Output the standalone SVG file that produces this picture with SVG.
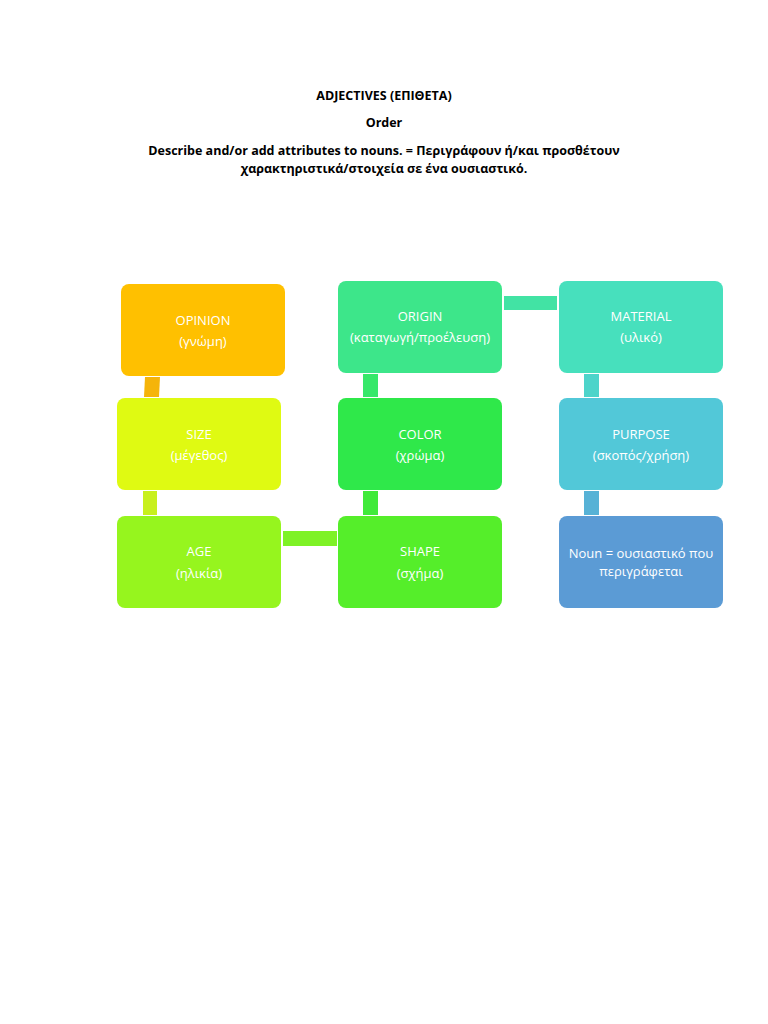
<svg xmlns="http://www.w3.org/2000/svg" width="768" height="1024" viewBox="0 0 768 1024">
<style>
.h{font-family:"Open Sans","Liberation Sans",sans-serif;font-size:12.5px;font-weight:bold;fill:#000;text-anchor:middle}
.t{font-family:"Open Sans","Liberation Sans",sans-serif;font-size:13px;fill:#fff;text-anchor:middle}
</style>
<rect width="768" height="1024" fill="#fff"/>
<text class="h" x="384" y="100">ADJECTIVES (ΕΠΙΘΕΤΑ)</text>
<text class="h" x="384" y="127">Order</text>
<text class="h" x="384" y="155">Describe and/or add attributes to nouns. =  Περιγράφουν ή/και προσθέτουν</text>
<text class="h" x="384" y="173">χαρακτηριστικά/στοιχεία σε ένα ουσιαστικό.</text>
<g id="connectors">
<polygon points="145,377 160,377 159,397 144,397" fill="#F5B40A"/>
<rect x="143" y="491" width="14" height="24" fill="#C8F01E"/>
<rect x="283" y="531" width="54" height="15" fill="#7EF226"/>
<rect x="363" y="374" width="15" height="23" fill="#36E86A"/>
<rect x="363" y="491" width="15" height="24" fill="#40EA3A"/>
<rect x="504" y="296" width="53" height="14" fill="#42E3A4"/>
<rect x="584" y="374" width="15" height="23" fill="#4DD4CA"/>
<rect x="584" y="491" width="15" height="24" fill="#57B2D6"/>
</g>
<g id="opinion"><rect x="121" y="284" width="164" height="92" rx="8" fill="#FFC000"/><text class="t" x="203" y="325">OPINION</text><text class="t" x="203" y="346">(γνώμη)</text></g>
<g id="size"><rect x="117" y="398" width="164" height="92" rx="8" fill="#DFFA12"/><text class="t" x="199" y="439">SIZE</text><text class="t" x="199" y="460">(μέγεθος)</text></g>
<g id="age"><rect x="117" y="516" width="164" height="92" rx="8" fill="#96F51E"/><text class="t" x="199" y="556">AGE</text><text class="t" x="199" y="578">(ηλικία)</text></g>
<g id="origin"><rect x="338" y="281" width="164" height="92" rx="8" fill="#3DE68A"/><text class="t" x="420" y="321">ORIGIN</text><text class="t" x="420" y="342">(καταγωγή/προέλευση)</text></g>
<g id="color"><rect x="338" y="398" width="164" height="92" rx="8" fill="#2FE84A"/><text class="t" x="420" y="439">COLOR</text><text class="t" x="420" y="460">(χρώμα)</text></g>
<g id="shape"><rect x="338" y="516" width="164" height="92" rx="8" fill="#55EE2A"/><text class="t" x="420" y="556">SHAPE</text><text class="t" x="420" y="578">(σχήμα)</text></g>
<g id="material"><rect x="559" y="281" width="164" height="92" rx="8" fill="#47E0BD"/><text class="t" x="641" y="321">MATERIAL</text><text class="t" x="641" y="342">(υλικό)</text></g>
<g id="purpose"><rect x="559" y="398" width="164" height="92" rx="8" fill="#52C8D8"/><text class="t" x="641" y="439">PURPOSE</text><text class="t" x="641" y="460">(σκοπός/χρήση)</text></g>
<g id="noun"><rect x="559" y="516" width="164" height="92" rx="8" fill="#5B9BD5"/><text class="t" x="641" y="558">Noun = ουσιαστικό που</text><text class="t" x="641" y="576">περιγράφεται</text></g>
</svg>
